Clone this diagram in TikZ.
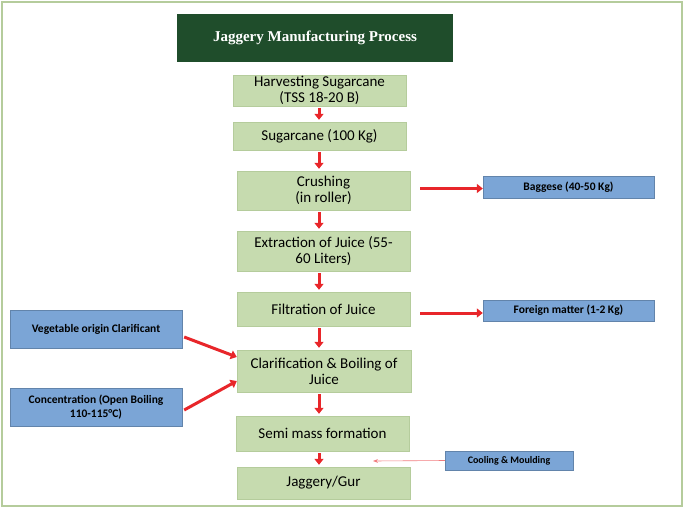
\documentclass[tikz,border=0pt]{standalone}
\usepackage{fontspec}
\setmainfont{Carlito}
\newfontfamily\titlefont{Liberation Serif}
\usetikzlibrary{arrows.meta}
\definecolor{stepgreen}{HTML}{C6DBAF}
\definecolor{stepedge}{HTML}{B5CC9C}
\definecolor{sideblue}{HTML}{7BA5D6}
\definecolor{titlegreen}{HTML}{1F4D2B}
\definecolor{arrowred}{HTML}{E8262A}
\begin{document}
\begin{tikzpicture}[x=1pt,y=-1pt]
\tikzstyle{procstep}=[draw=stepedge,fill=stepgreen,minimum width=173pt,align=center,
  font=\fontsize{15}{16}\selectfont,inner sep=1pt]
\tikzstyle{side}=[draw=sideblue!80!black,fill=sideblue,minimum width=172pt,align=center,
  font=\bfseries\fontsize{11.5}{14}\selectfont,inner sep=1pt]
\tikzstyle{flow}=[draw=arrowred,line width=3pt,-{Triangle[length=6pt,width=9pt]}]

% Frame and title
\useasboundingbox (0,0) rectangle (685,509);
\draw[stepedge,line width=1.2pt] (2,2) rectangle (682,506);
\node[fill=titlegreen,minimum width=276pt,minimum height=48pt,text=white,
  font=\titlefont\bfseries\fontsize{15}{17}\selectfont] (title) at (315,38)
  {Jaggery Manufacturing Process};
\coordinate (axis) at (319,0);

% Main process steps
\node[procstep,minimum height=31pt] (harvest) at (319.5,90.5) {Harvesting Sugarcane\\(TSS 18-20 B)};
\node[procstep,minimum height=28pt] (cane) at (319.5,136) {Sugarcane (100 Kg)};
\node[procstep,minimum height=39pt] (crush) at (323.5,190.5) {Crushing\\(in roller)};
\node[procstep,minimum height=40pt] (extract) at (323.5,251) {Extraction of Juice (55-\\60 Liters)};
\node[procstep,minimum height=34pt] (filter) at (323.5,309) {Filtration of Juice};
\node[procstep,minimum height=42pt,minimum width=174pt] (clarify) at (324,371) {Clarification \& Boiling of\\Juice};
\node[procstep,minimum height=35pt] (semi) at (322.5,433.5) {Semi mass formation};
\node[procstep,minimum height=32pt] (jaggery) at (323.5,483) {Jaggery/Gur};

% Side inputs and outputs
\node[side,minimum width=171pt,minimum height=22pt] (bagasse) at (568.5,187) {Baggese (40-50 Kg)};
\node[side,minimum width=171pt,minimum height=21pt] (foreign) at (568.5,310.5) {Foreign matter (1-2 Kg)};
\node[side,minimum height=38pt] (clarificant) at (96,329) {Vegetable origin Clarificant};
\node[side,minimum height=38pt] (concentrate) at (96,407) {Concentration (Open Boiling\\110-115\textdegree C)};
\node[side,minimum width=128pt,minimum height=19pt,font=\bfseries\fontsize{10}{12}\selectfont] (cooling) at (509,460.5) {Cooling \& Moulding};
\coordinate (coolend) at (373,461);

% Arrows down the main line
\foreach \a/\b in {harvest/cane,cane/crush,crush/extract,extract/filter,filter/clarify,clarify/semi,semi/jaggery}
  \draw[flow,shorten <=2pt,shorten >=2pt] (\a.south -| axis) -- (\b.north -| axis);

% Side arrows
\draw[flow] (crush.east) ++(10,-2) coordinate (bag0) -- (bag0 -| bagasse.west);
\draw[flow] (filter.east) ++(10,4) coordinate (for0) -- (for0 -| foreign.west);
\draw[flow] (clarificant.east) ++(2,8) -- ([yshift=14pt]clarify.west);
\draw[flow] (concentrate.east) ++(2,3) -- ([yshift=-10pt]clarify.west);
\draw[arrowred!60,line width=0.6pt,-{Stealth[length=5pt]}] (cooling.west) -- (coolend);
\end{tikzpicture}
\end{document}
